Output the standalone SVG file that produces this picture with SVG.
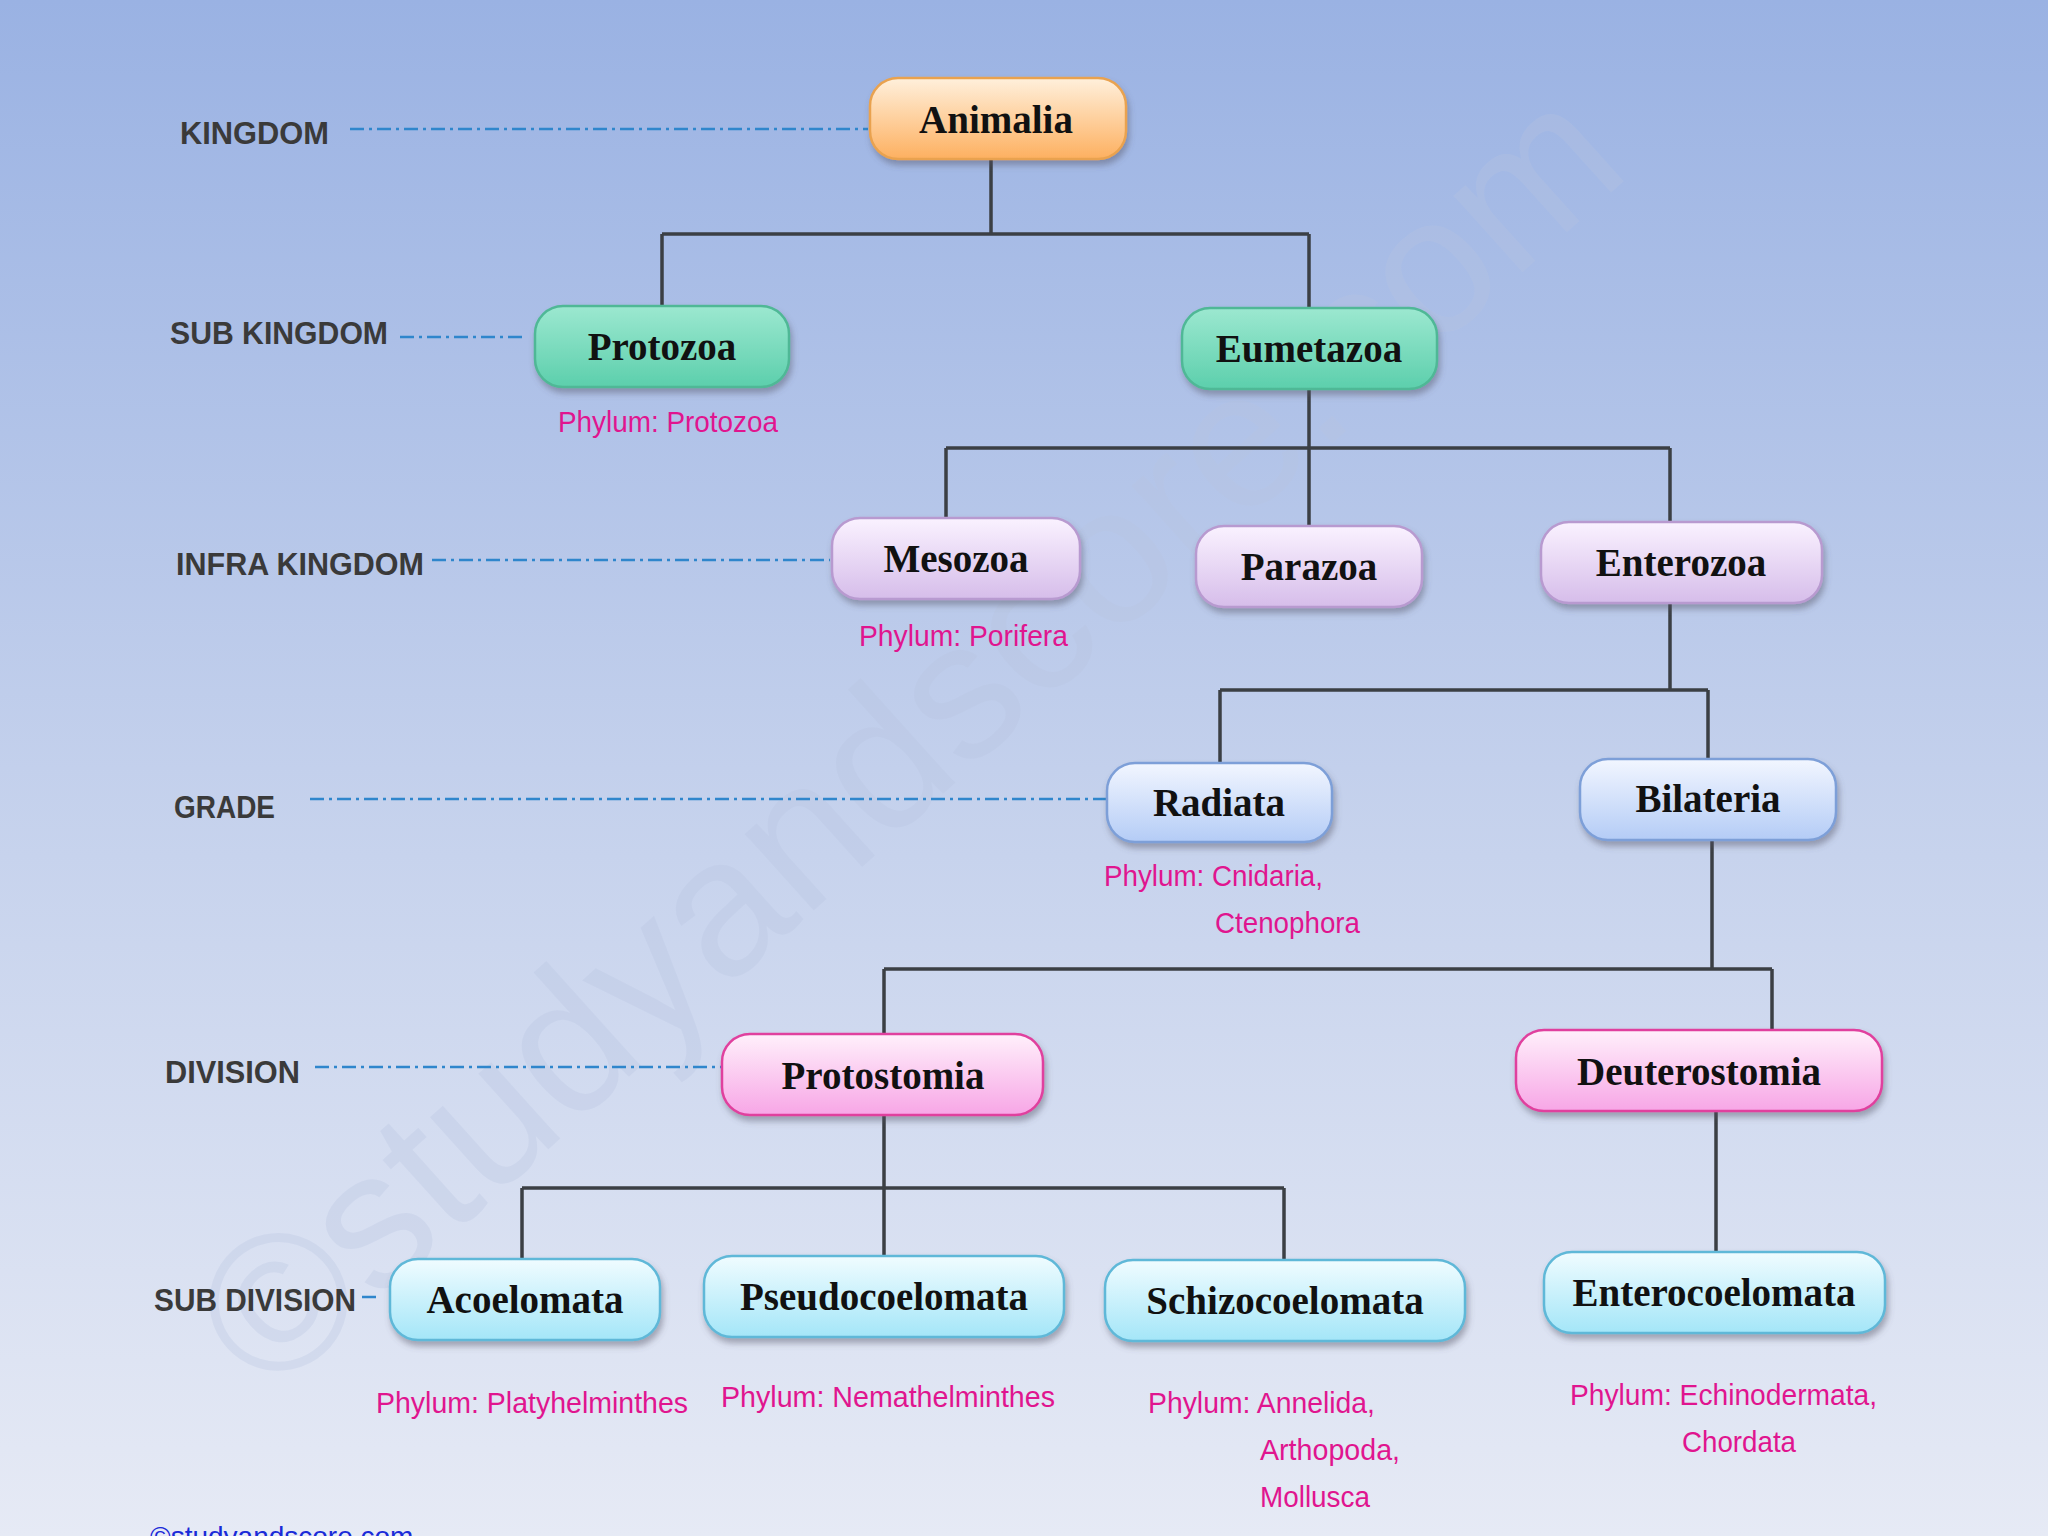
<svg xmlns="http://www.w3.org/2000/svg" width="2048" height="1536" viewBox="0 0 2048 1536">
<defs>
<linearGradient id="bg" x1="0" y1="0" x2="0" y2="1"><stop offset="0" stop-color="#9ab2e3"/><stop offset="0.5" stop-color="#c3d0ec"/><stop offset="1" stop-color="#e6eaf5"/></linearGradient>
<linearGradient id="gO" x1="0" y1="0" x2="0" y2="1"><stop offset="0" stop-color="#fff0dc"/><stop offset="1" stop-color="#fdb060"/></linearGradient>
<linearGradient id="gG" x1="0" y1="0" x2="0" y2="1"><stop offset="0" stop-color="#9ce8d0"/><stop offset="1" stop-color="#5ccfac"/></linearGradient>
<linearGradient id="gL" x1="0" y1="0" x2="0" y2="1"><stop offset="0" stop-color="#faf2ff"/><stop offset="1" stop-color="#d6bdea"/></linearGradient>
<linearGradient id="gB" x1="0" y1="0" x2="0" y2="1"><stop offset="0" stop-color="#f2f6ff"/><stop offset="1" stop-color="#b4ccf6"/></linearGradient>
<linearGradient id="gP" x1="0" y1="0" x2="0" y2="1"><stop offset="0" stop-color="#fff0fb"/><stop offset="1" stop-color="#f7a6e6"/></linearGradient>
<linearGradient id="gC" x1="0" y1="0" x2="0" y2="1"><stop offset="0" stop-color="#f0fcff"/><stop offset="1" stop-color="#a4e6f8"/></linearGradient>
<filter id="sh" x="-10%" y="-20%" width="120%" height="150%"><feDropShadow dx="2" dy="5" stdDeviation="3" flood-color="#556" flood-opacity="0.45"/></filter>
</defs>
<style>
.box{stroke-width:2.5;filter:url(#sh)}
.o{fill:url(#gO);stroke:#e9a24f}.g{fill:url(#gG);stroke:#4fb896}.l{fill:url(#gL);stroke:#b89ad0}.b{fill:url(#gB);stroke:#7d9fd8}.p{fill:url(#gP);stroke:#e0409e}.c{fill:url(#gC);stroke:#5fb8d8}
.nt{font-family:"Liberation Serif",serif;font-weight:bold;font-size:39px;fill:#111;text-anchor:middle}
.lv{font-family:"Liberation Sans",sans-serif;font-weight:bold;font-size:32px;fill:#3a3a3a}
.ph{font-family:"Liberation Sans",sans-serif;font-size:29px;fill:#e0158f}
.dd{stroke:#2f86cc;stroke-width:2.5;stroke-dasharray:14 5 3 5;fill:none}
.ln{stroke:#3b3f44;stroke-width:3.5;fill:none}
</style>
<rect width="2048" height="1536" fill="url(#bg)"/>
<text x="270" y="1400" transform="rotate(-42 270 1400)" font-family="Liberation Sans,sans-serif" font-size="195" fill="#b8c4e0" opacity="0.3">©studyandscore.com</text>
<g id="levels">
<text class="lv" x="180" y="144" textLength="149" lengthAdjust="spacingAndGlyphs">KINGDOM</text>
<text class="lv" x="170" y="344" textLength="218" lengthAdjust="spacingAndGlyphs">SUB KINGDOM</text>
<text class="lv" x="176" y="575" textLength="248" lengthAdjust="spacingAndGlyphs">INFRA KINGDOM</text>
<text class="lv" x="174" y="818" textLength="101" lengthAdjust="spacingAndGlyphs">GRADE</text>
<text class="lv" x="165" y="1083" textLength="135" lengthAdjust="spacingAndGlyphs">DIVISION</text>
<text class="lv" x="154" y="1311" textLength="202" lengthAdjust="spacingAndGlyphs">SUB DIVISION</text>
<path class="dd" d="M350 129H868M400 337H522M432 560H830M310 799H1107M315 1067H722M362 1297H381"/>
</g>
<g id="connectors">
<path class="ln" d="M991 159V234M662 234H1309M662 234V306M1309 234V308"/>
<path class="ln" d="M1309 389V526M946 448H1670M946 448V518M1670 448V522"/>
<path class="ln" d="M1670 603V690M1220 690H1708M1220 690V763M1708 690V759"/>
<path class="ln" d="M1712 840V969M884 969H1772M884 969V1034M1772 969V1030"/>
<path class="ln" d="M884 1115V1188M522 1188H1284M522 1188V1259M884 1188V1256M1284 1188V1260"/>
<path class="ln" d="M1716 1111V1252"/>
</g>
<g id="animalia"><rect class="box o" x="870" y="78" width="256" height="81" rx="28"/><text class="nt" x="996" y="133">Animalia</text></g>
<g id="protozoa"><rect class="box g" x="535" y="306" width="254" height="81" rx="28"/><text class="nt" x="662" y="360">Protozoa</text><text class="ph" x="558" y="432" textLength="220" lengthAdjust="spacingAndGlyphs">Phylum: Protozoa</text></g>
<g id="eumetazoa"><rect class="box g" x="1182" y="308" width="255" height="81" rx="28"/><text class="nt" x="1309" y="362">Eumetazoa</text></g>
<g id="mesozoa"><rect class="box l" x="832" y="518" width="248" height="81" rx="28"/><text class="nt" x="956" y="572">Mesozoa</text><text class="ph" x="859" y="646" textLength="209" lengthAdjust="spacingAndGlyphs">Phylum: Porifera</text></g>
<g id="parazoa"><rect class="box l" x="1196" y="526" width="226" height="81" rx="28"/><text class="nt" x="1309" y="580">Parazoa</text></g>
<g id="enterozoa"><rect class="box l" x="1541" y="522" width="281" height="81" rx="28"/><text class="nt" x="1681" y="576">Enterozoa</text></g>
<g id="radiata"><rect class="box b" x="1107" y="763" width="225" height="79" rx="28"/><text class="nt" x="1219" y="816">Radiata</text><text class="ph" x="1104" y="886" textLength="219" lengthAdjust="spacingAndGlyphs">Phylum: Cnidaria,</text><text class="ph" x="1215" y="933" textLength="145" lengthAdjust="spacingAndGlyphs">Ctenophora</text></g>
<g id="bilateria"><rect class="box b" x="1580" y="759" width="256" height="81" rx="28"/><text class="nt" x="1708" y="812">Bilateria</text></g>
<g id="protostomia"><rect class="box p" x="722" y="1034" width="321" height="81" rx="28"/><text class="nt" x="883" y="1089">Protostomia</text></g>
<g id="deuterostomia"><rect class="box p" x="1516" y="1030" width="366" height="81" rx="28"/><text class="nt" x="1699" y="1085">Deuterostomia</text></g>
<g id="acoelomata"><rect class="box c" x="390" y="1259" width="270" height="81" rx="28"/><text class="nt" x="525" y="1313">Acoelomata</text><text class="ph" x="376" y="1413" textLength="312" lengthAdjust="spacingAndGlyphs">Phylum: Platyhelminthes</text></g>
<g id="pseudocoelomata"><rect class="box c" x="704" y="1256" width="360" height="81" rx="28"/><text class="nt" x="884" y="1310">Pseudocoelomata</text><text class="ph" x="721" y="1407" textLength="334" lengthAdjust="spacingAndGlyphs">Phylum: Nemathelminthes</text></g>
<g id="schizocoelomata"><rect class="box c" x="1105" y="1260" width="360" height="81" rx="28"/><text class="nt" x="1285" y="1314">Schizocoelomata</text><text class="ph" x="1148" y="1413" textLength="227" lengthAdjust="spacingAndGlyphs">Phylum: Annelida,</text><text class="ph" x="1260" y="1460" textLength="140" lengthAdjust="spacingAndGlyphs">Arthopoda,</text><text class="ph" x="1260" y="1507" textLength="110" lengthAdjust="spacingAndGlyphs">Mollusca</text></g>
<g id="enterocoelomata"><rect class="box c" x="1544" y="1252" width="341" height="81" rx="28"/><text class="nt" x="1714" y="1306">Enterocoelomata</text><text class="ph" x="1570" y="1405" textLength="307" lengthAdjust="spacingAndGlyphs">Phylum: Echinodermata,</text><text class="ph" x="1682" y="1452" textLength="114" lengthAdjust="spacingAndGlyphs">Chordata</text></g>
<text x="150" y="1546" font-family="Liberation Sans,sans-serif" font-size="28" fill="#1a2bd8" text-decoration="underline">©studyandscore.com</text>
</svg>
